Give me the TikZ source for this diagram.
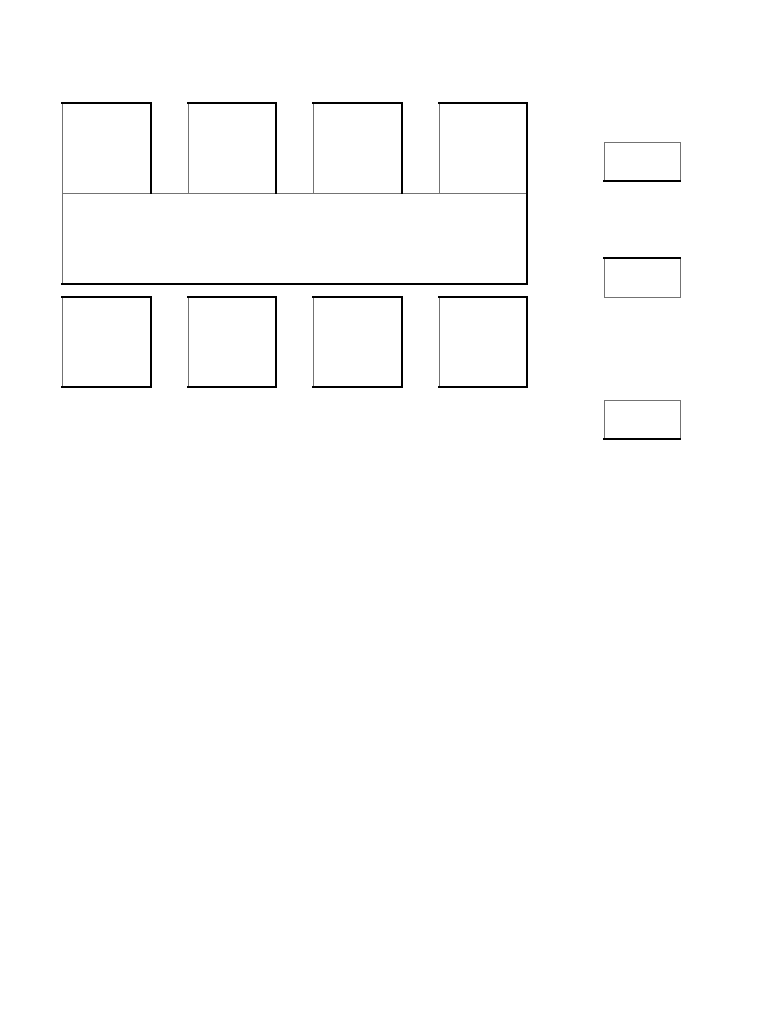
\documentclass[tikz,border=0pt]{standalone}
\begin{document}
\begin{tikzpicture}[x=1pt,y=-1pt,
  cell/.style={draw=black!55,line width=0.8pt,inner sep=0pt,outer sep=0pt,rectangle},
  heavy/.style={draw=black,line width=1.7pt,line cap=rect}]
\useasboundingbox (0,0) rectangle (768,1024);
\fill[white] (0,0) rectangle (768,1024);
% top row
\foreach \i/\a/\b in {1/62/151,2/188/276,3/313/402,4/439/527}{
  \node[cell,minimum width={\b-\a},minimum height=90] (t\i) at ({(\a+\b)/2},148) {};
  \node[cell,minimum width={\b-\a},minimum height=90] (b\i) at ({(\a+\b)/2},342) {};
}
% big middle box
\node[cell,minimum width=465,minimum height=91] (mid) at (294.5,238.5) {};
% right column
\node[cell,minimum width=76,minimum height=39] (r1) at (642,161.5) {};
\node[cell,minimum width=76,minimum height=39] (r2) at (642,277.5) {};
\node[cell,minimum width=76,minimum height=39] (r3) at (642,419.5) {};
% heavy edges
\foreach \i in {1,2,3,4}{
  \draw[heavy] (t\i.north west) -- (t\i.north east) -- (t\i.south east);
  \draw[heavy] (b\i.north west) -- (b\i.north east) -- (b\i.south east) -- (b\i.south west);
}
\draw[heavy] (mid.north east) -- (mid.south east) -- (mid.south west);
\draw[heavy] (r1.south west) -- (r1.south east);
\draw[heavy] (r2.north west) -- (r2.north east);
\draw[heavy] (r3.south west) -- (r3.south east);
\end{tikzpicture}
\end{document}
